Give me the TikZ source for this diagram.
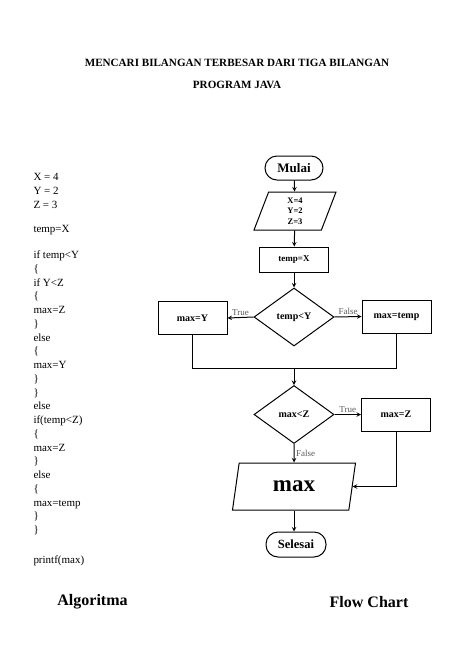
\documentclass[tikz,border=0pt]{standalone}
\usepackage{fontspec}
\setmainfont{Liberation Serif}
\usetikzlibrary{shapes.geometric}

\begin{document}
\begin{tikzpicture}[x=1pt,y=-1pt,>=stealth,line width=1pt]
\tikzstyle{term}=[rectangle,draw,rounded corners=12pt,minimum width=58pt,minimum height=24pt,inner sep=2pt,font=\bfseries\fontsize{13}{14}\selectfont]
\tikzstyle{proc}=[rectangle,draw,minimum width=69pt,minimum height=33pt,inner sep=2pt,font=\bfseries\fontsize{10}{11}\selectfont]
\tikzstyle{cond}=[diamond,draw,minimum width=80pt,minimum height=58pt,inner sep=0pt,font=\bfseries\fontsize{10}{11}\selectfont]
\tikzstyle{io}=[trapezium,trapezium left angle=63,trapezium right angle=117,trapezium stretches body,draw,inner sep=1pt,align=center]
\tikzstyle{lbl}=[inner sep=1.5pt,text=black!65,font=\fontsize{9}{10}\selectfont]
\tikzstyle{caption}=[font=\bfseries\fontsize{16}{18}\selectfont]
\useasboundingbox (0,0) rectangle (474,670);
% judul
\node[font=\bfseries\fontsize{11.1}{13}\selectfont] (judul) at (237,63) {MENCARI BILANGAN TERBESAR DARI TIGA BILANGAN};
\node[font=\bfseries\fontsize{11.1}{13}\selectfont] (subjudul) at (237,85) {PROGRAM JAVA};
% algoritma
\node[anchor=north west,align=left,inner sep=0pt,font=\fontsize{11}{13.75}\selectfont] (kode) at (33,173)
{X = 4\\Y = 2\\Z = 3\\[11pt]temp=X\\[12pt]if temp<Y\\\{\\if Y<Z\\\{\\max=Z\\\}\\else\\\{\\max=Y\\\}\\\}\\else\\if(temp<Z)\\\{\\max=Z\\\}\\else\\\{\\max=temp\\\}\\\}\\[16pt]printf(max)};
% flow chart
\node[term] (mulai) at (294,168) {Mulai};
\node[io,minimum width=82pt,minimum height=38pt,font=\bfseries\fontsize{8.5}{10.5}\selectfont] (input) at (295,211) {X=4\\Y=2\\Z=3};
\node[proc,minimum height=25pt,font=\bfseries\fontsize{9}{10}\selectfont] (tempx) at (294,259.5) {temp=X};
\node[cond] (cek1) at (294,317) {temp<Y};
\node[proc] (maxy) at (192.5,318) {max=Y};
\node[proc] (maxtemp) at (396.5,316.5) {max=temp};
\coordinate (gabung) at (294,368);
\node[cond] (cek2) at (294,414.5) {max<Z};
\node[proc] (maxz) at (396,414.5) {max=Z};
\node[io,minimum width=123pt,minimum height=47pt,font=\bfseries\fontsize{23}{25}\selectfont] (outmax) at (294,486.5) {max};
\node[term,minimum width=60pt,minimum height=25pt,font=\bfseries\fontsize{12.5}{14}\selectfont] (selesai) at (296,544.5) {Selesai};
\draw[->] (mulai) -- (input);
\draw[->] (input) -- (tempx);
\draw[->] (tempx) -- (cek1);
\draw[->] (cek1.west) -- node[lbl,above] {True} (maxy.east);
\draw[->] (cek1.east) -- node[lbl,above] {False} (maxtemp.west);
\draw (maxy.south) |- (gabung);
\draw (maxtemp.south) |- (gabung);
\draw[->] (gabung) -- (cek2.north);
\draw[->] (cek2.east) -- node[lbl,above] {True} (maxz.west);
\draw[->] (cek2.south) -- node[lbl,right] {False} (outmax.north);
\draw[->] (maxz.south) |- (outmax.east);
\draw[->] (outmax.south) -- (outmax.south |- selesai.north);
% keterangan
\node[caption] (algoritma) at (92.5,602) {Algoritma};
\node[caption] (flowchart) at (369,602) {Flow Chart};
\end{tikzpicture}
\end{document}
